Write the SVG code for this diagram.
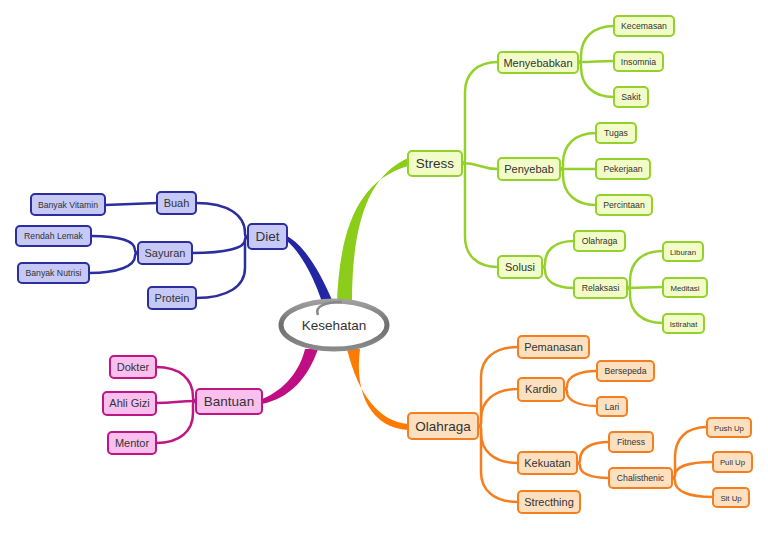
<svg xmlns="http://www.w3.org/2000/svg" width="768" height="533" viewBox="0 0 768 533">
<defs>
<linearGradient id="ring" x1="0" y1="0" x2="0" y2="1">
<stop offset="0" stop-color="#a0a0a0"/>
<stop offset="0.5" stop-color="#6e6e6e"/>
<stop offset="1" stop-color="#8a8a8a"/>
</linearGradient>
</defs>
<style>
text{font-family:"Liberation Sans",Arial,sans-serif;fill:#333;text-anchor:middle}
rect{stroke-width:2}
.g rect{fill:#f1fcc8;stroke:#95d12c}
.o rect{fill:#fde0c0;stroke:#f57f20}
.b rect{fill:#c6c8f5;stroke:#2b2e9c}
.p rect{fill:#f9c0ee;stroke:#bf1585}
.c path.ln{fill:none;stroke-width:2.5;stroke-linecap:round}
.cg{stroke:#95d12c}.co{stroke:#f57f20}.cb{stroke:#2b2e9c}.cp{stroke:#bf1585}
.c path.br{stroke:none}
.bb{fill:#2326a3}.bg{fill:#8ccc1a}.bp{fill:#bf0e84}.bo{fill:#ff7a00}
.t1{font-size:13.5px}.t2{font-size:11px}.t3{font-size:8.7px}.t4{font-size:7.8px}
</style>
<rect x="0" y="0" width="768" height="533" fill="#fff" stroke="none"/>
<g id="connectors" class="c">
<path class="ln cg" d="M462,163 Q465,163 465,160 L465,92 C465,74 477,62 498,62"/>
<path class="ln cg" d="M462,163 C480,163 480,169 498,169"/>
<path class="ln cg" d="M462,163 Q465,163 465,166 L465,237 C465,255 477,267 498,267"/>
<path class="ln cg" d="M578,62 Q581,62 581,59 L581,56 C581,38 593,26 614,26"/>
<path class="ln cg" d="M578,62 C596,62 596,61 614,61"/>
<path class="ln cg" d="M578,62 Q581,62 581,65 L581,67 C581,85 593,97 614,97"/>
<path class="ln cg" d="M560,169 Q563,169 563,166 L563,163 C563,145 575,133 596,133"/>
<path class="ln cg" d="M560,169 L596,169"/>
<path class="ln cg" d="M560,169 Q563,169 563,172 L563,175 C563,193 575,205 596,205"/>
<path class="ln cg" d="M542,267 Q545,267 545,264 C545,250 555,241 574,241"/>
<path class="ln cg" d="M542,267 Q545,267 545,270 C545,281 555,288 574,288"/>
<path class="ln cg" d="M627,288 Q630,288 630,285 L630,281 C630,263 641,251 663,251"/>
<path class="ln cg" d="M627,288 L663,287"/>
<path class="ln cg" d="M627,288 Q630,288 630,291 L630,295 C630,311 641,323 663,323"/>
<path class="ln co" d="M478,426 Q481,426 481,423 L481,377 C481,359 494,347 518,347"/>
<path class="ln co" d="M478,426 Q481,426 481,423 L481,419 C481,401 494,389 518,389"/>
<path class="ln co" d="M478,426 Q481,426 481,429 L481,433 C481,451 494,463 518,463"/>
<path class="ln co" d="M478,426 Q481,426 481,429 L481,472 C481,490 494,502 518,502"/>
<path class="ln co" d="M564,389 Q567,389 567,386 C567,377 578,371 597,371"/>
<path class="ln co" d="M564,389 Q567,389 567,392 C567,400 578,406 597,406"/>
<path class="ln co" d="M577,463 Q580,463 580,460 C580,449 590,442 609,442"/>
<path class="ln co" d="M577,463 Q580,463 580,466 C580,473 590,478 609,478"/>
<path class="ln co" d="M672,478 Q675,478 675,475 L675,457 C675,439 686,427 707,427"/>
<path class="ln co" d="M672,478 Q675,478 675,475 C675,467 688,462 713,462"/>
<path class="ln co" d="M672,478 Q675,478 675,481 C675,491 688,497 713,497"/>
<path class="ln cb" d="M248,237 Q245,237 245,234 L245,233 C245,215 228,203 196,203"/>
<path class="ln cb" d="M248,237 Q245,237 245,240 C245,248 226,253 192,253"/>
<path class="ln cb" d="M248,237 Q245,237 245,240 L245,268 C245,286 228,298 196,298"/>
<path class="ln cb" d="M138,253 Q135,253 135,250 C135,241 119,236 91,236"/>
<path class="ln cb" d="M138,253 Q135,253 135,256 C135,266 118,273 89,273"/>
<path class="ln cb" d="M157,203 L105,205"/>
<path class="ln cp" d="M196,401 Q193,401 193,398 L193,397 C193,379 180,367 156,367"/>
<path class="ln cp" d="M196,401 C176,401 176,403 156,403"/>
<path class="ln cp" d="M196,401 Q193,401 193,404 L193,413 C193,431 180,443 156,443"/>
<path class="br bb" d="M287,236 C305,246 320,272 333,302 L322,302 C314,278 302,254 287,241 Z"/>
<path class="br bg" d="M408,158 C370,175 352,220 352,302 L337,302 C340,225 360,180 408,166 Z"/>
<path class="br bp" d="M262,399 C285,390 300,370 305,349 L318,349 C308,378 290,398 262,404 Z"/>
<path class="br bo" d="M347,349 C358,395 380,422 408,424 L408,430 C372,428 354,395 360,349 Z"/>
</g>
<g id="center">
<ellipse cx="334" cy="325" rx="53" ry="24" fill="#fff" stroke="url(#ring)" stroke-width="5"/>
<path d="M318,315 C314,306 326,302 342,302" fill="none" stroke="#888" stroke-width="2.5"/>
<text x="334" y="330" style="font-size:13.5px">Kesehatan</text>
</g>
<g id="n-stress" class="g"><rect x="408" y="151" width="54" height="25" rx="4"/><text class="t1" x="435" y="168">Stress</text></g>
<g id="n-menyebabkan" class="g"><rect x="498" y="52" width="80" height="21" rx="4"/><text class="t2" x="538" y="66.5">Menyebabkan</text></g>
<g id="n-penyebab" class="g"><rect x="498" y="158" width="62" height="22" rx="4"/><text class="t2" x="529" y="173">Penyebab</text></g>
<g id="n-solusi" class="g"><rect x="498" y="256" width="44" height="22" rx="4"/><text class="t2" x="520" y="271">Solusi</text></g>
<g id="n-kecemasan" class="g"><rect x="614" y="16" width="60" height="20" rx="4"/><text class="t3" x="644" y="29">Kecemasan</text></g>
<g id="n-insomnia" class="g"><rect x="614" y="52" width="49" height="19" rx="4"/><text class="t3" x="638.5" y="64.5">Insomnia</text></g>
<g id="n-sakit" class="g"><rect x="614" y="87" width="34" height="20" rx="4"/><text class="t3" x="631" y="100">Sakit</text></g>
<g id="n-tugas" class="g"><rect x="596" y="123" width="40" height="20" rx="4"/><text class="t3" x="616" y="136">Tugas</text></g>
<g id="n-pekerjaan" class="g"><rect x="596" y="159" width="54" height="20" rx="4"/><text class="t3" x="623" y="172">Pekerjaan</text></g>
<g id="n-percintaan" class="g"><rect x="596" y="195" width="56" height="20" rx="4"/><text class="t3" x="624" y="208">Percintaan</text></g>
<g id="n-olahraga2" class="g"><rect x="574" y="231" width="51" height="20" rx="4"/><text class="t3" x="599.5" y="244">Olahraga</text></g>
<g id="n-relaksasi" class="g"><rect x="574" y="278" width="53" height="20" rx="4"/><text class="t3" x="600.5" y="291">Relaksasi</text></g>
<g id="n-liburan" class="g"><rect x="663" y="242" width="40" height="19" rx="4"/><text class="t4" x="683" y="254.5">Liburan</text></g>
<g id="n-meditasi" class="g"><rect x="663" y="278" width="44" height="19" rx="4"/><text class="t4" x="685" y="290.5">Meditasi</text></g>
<g id="n-istirahat" class="g"><rect x="663" y="314" width="41" height="19" rx="4"/><text class="t4" x="683.5" y="326.5">Istirahat</text></g>
<g id="n-olahraga" class="o"><rect x="408" y="413" width="70" height="26" rx="4"/><text class="t1" x="443" y="431">Olahraga</text></g>
<g id="n-pemanasan" class="o"><rect x="518" y="336" width="71" height="22" rx="4"/><text class="t2" x="553.5" y="351">Pemanasan</text></g>
<g id="n-kardio" class="o"><rect x="518" y="378" width="46" height="23" rx="4"/><text class="t2" x="541" y="393">Kardio</text></g>
<g id="n-kekuatan" class="o"><rect x="518" y="452" width="59" height="22" rx="4"/><text class="t2" x="547.5" y="467">Kekuatan</text></g>
<g id="n-strecthing" class="o"><rect x="518" y="491" width="62" height="22" rx="4"/><text class="t2" x="549" y="506">Strecthing</text></g>
<g id="n-bersepeda" class="o"><rect x="597" y="361" width="57" height="20" rx="4"/><text class="t3" x="625.5" y="374">Bersepeda</text></g>
<g id="n-lari" class="o"><rect x="597" y="397" width="30" height="19" rx="4"/><text class="t3" x="612" y="409.5">Lari</text></g>
<g id="n-fitness" class="o"><rect x="609" y="432" width="44" height="20" rx="4"/><text class="t3" x="631" y="445">Fitness</text></g>
<g id="n-chalisthenic" class="o"><rect x="609" y="468" width="63" height="20" rx="4"/><text class="t3" x="640.5" y="481">Chalisthenic</text></g>
<g id="n-pushup" class="o"><rect x="707" y="418" width="44" height="19" rx="4"/><text class="t4" x="729" y="430.5">Push Up</text></g>
<g id="n-pullup" class="o"><rect x="713" y="452" width="39" height="20" rx="4"/><text class="t4" x="732.5" y="465">Pull Up</text></g>
<g id="n-situp" class="o"><rect x="713" y="488" width="36" height="19" rx="4"/><text class="t4" x="731" y="500.5">Sit Up</text></g>
<g id="n-diet" class="b"><rect x="248" y="224" width="39" height="25" rx="4"/><text class="t1" x="267.5" y="241">Diet</text></g>
<g id="n-buah" class="b"><rect x="157" y="192" width="39" height="22" rx="4"/><text class="t2" x="176.5" y="207">Buah</text></g>
<g id="n-sayuran" class="b"><rect x="138" y="242" width="54" height="22" rx="4"/><text class="t2" x="165" y="257">Sayuran</text></g>
<g id="n-protein" class="b"><rect x="148" y="287" width="48" height="22" rx="4"/><text class="t2" x="172" y="302">Protein</text></g>
<g id="n-vitamin" class="b"><rect x="31" y="194" width="74" height="21" rx="4"/><text class="t3" x="68" y="207.5">Banyak Vitamin</text></g>
<g id="n-lemak" class="b"><rect x="16" y="226" width="75" height="20" rx="4"/><text class="t3" x="53.5" y="239">Rendah Lemak</text></g>
<g id="n-nutrisi" class="b"><rect x="18" y="263" width="71" height="20" rx="4"/><text class="t3" x="53.5" y="276">Banyak Nutrisi</text></g>
<g id="n-bantuan" class="p"><rect x="196" y="389" width="66" height="25" rx="4"/><text class="t1" x="229" y="406">Bantuan</text></g>
<g id="n-dokter" class="p"><rect x="110" y="356" width="46" height="22" rx="4"/><text class="t2" x="133" y="371">Dokter</text></g>
<g id="n-ahligizi" class="p"><rect x="103" y="392" width="53" height="23" rx="4"/><text class="t2" x="129.5" y="407">Ahli Gizi</text></g>
<g id="n-mentor" class="p"><rect x="108" y="432" width="48" height="22" rx="4"/><text class="t2" x="132" y="447">Mentor</text></g>
</svg>
